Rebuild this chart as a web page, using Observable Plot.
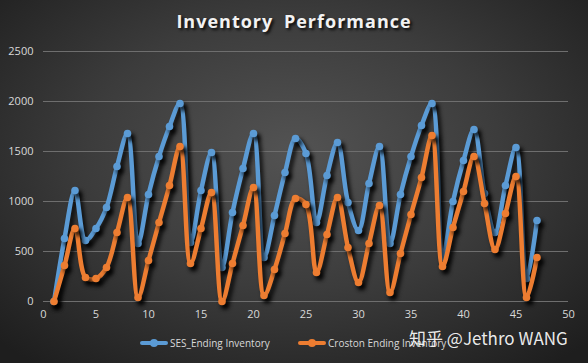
<!DOCTYPE html>
<html><head><meta charset="utf-8">
<script src="https://cdn.jsdelivr.net/npm/d3@7"></script>
<script src="https://cdn.jsdelivr.net/npm/@observablehq/plot@0.6"></script>
<style>
body{margin:0;background:#222;}
#chart{position:relative;width:588px;height:363px;overflow:hidden;
  background:radial-gradient(ellipse 70% 75% at 50% 42%, #535353 0%, #3c3c3c 50%, #1e1e1e 100%);
  font-family:"Open Sans",sans-serif;}
#title{position:absolute;top:9px;left:0;width:588px;text-align:center;color:#f2f2f2;font-weight:bold;
  font-size:18px;letter-spacing:1px;word-spacing:5px;text-shadow:2px 2px 3px rgba(0,0,0,0.85);}
#plot{position:absolute;left:0;top:0;}
.leg{position:absolute;top:336px;height:14px;display:flex;align-items:center;font-size:10px;color:#d9d9d9;}
.sw{position:relative;width:28px;height:4px;border-radius:2px;margin-right:2px;}
.sw i{position:absolute;left:10px;top:-2px;width:8px;height:8px;border-radius:4px;}
#wm{position:absolute;left:409px;top:325px;font-family:"Noto Sans CJK SC","Noto Sans",sans-serif;font-size:17px;color:rgba(255,255,255,0.92);white-space:nowrap;}
</style></head>
<body>
<div id="chart">
  <div id="plot"></div>
  <div id="title">Inventory Performance</div>
  <div class="leg" style="left:140px"><div class="sw" style="background:#5b9bd5"><i style="background:#5b9bd5"></i></div>SES_Ending Inventory</div>
  <div class="leg" style="left:298px"><div class="sw" style="background:#ed7d31"><i style="background:#ed7d31"></i></div>Croston Ending Inventory</div>
  <div id="wm">知乎 @Jethro WANG</div>
</div>
<script>
const periods = [1,2,3,4,5,6,7,8,9,10,11,12,13,14,15,16,17,18,19,20,21,22,23,24,25,26,27,28,29,30,31,32,33,34,35,36,37,38,39,40,41,42,43,44,45,46,47];
const sesEnding = [0,630,1110,610,730,940,1350,1680,580,1070,1450,1750,1980,590,1110,1490,340,890,1330,1680,440,860,1290,1630,1480,790,1260,1590,990,710,1180,1550,580,1070,1450,1760,1980,440,1000,1410,1720,1080,690,1160,1540,230,810];
const crostonEnding = [0,360,730,240,230,340,690,1040,40,410,790,1160,1550,380,730,1090,0,380,760,1140,60,320,680,1030,970,290,670,1040,540,190,580,960,90,480,870,1240,1660,350,740,1100,1450,980,520,880,1250,40,440];
const xTicks = [0,5,10,15,20,25,30,35,40,45,50];
const yTicks = [0,500,1000,1500,2000,2500];
const blue = "#5b9bd5", orange = "#ed7d31";

const ses = periods.map((t,i)=>({t, v: sesEnding[i]}));
const cro = periods.map((t,i)=>({t, v: crostonEnding[i]}));

const plot = Plot.plot({
  width:588, height:363,
  marginTop:51, marginBottom:62, marginLeft:43, marginRight:20,
  style:{background:"transparent", color:"#d9d9d9", fontSize:"11px", fontFamily:"Open Sans, sans-serif", overflow:"visible"},
  x:{domain:[0,50], label:null},
  y:{domain:[0,2500], label:null},
  marks:[
    Plot.gridY(yTicks,{stroke:"#6e6e6e", strokeOpacity:1, strokeWidth:1}),
    Plot.axisX(xTicks,{tickSize:0, tickPadding:9, fill:"#d9d9d9", tickFormat:d3.format("d")}),
    Plot.axisY(yTicks,{tickSize:0, tickPadding:10, fill:"#d9d9d9", tickFormat:d3.format("d")}),
    Plot.line(ses,{x:"t", y:"v", stroke:blue, strokeWidth:4.5, curve:"catmull-rom"}),
    Plot.dot(ses,{x:"t", y:"v", fill:blue, r:3.8}),
    Plot.line(cro,{x:"t", y:"v", stroke:orange, strokeWidth:4.5, curve:"catmull-rom"}),
    Plot.dot(cro,{x:"t", y:"v", fill:orange, r:3.8})
  ]
});
d3.select(plot).selectAll('g[aria-label="line"], g[aria-label="dot"]')
  .style("filter","drop-shadow(3px 4px 2px rgba(0,0,0,0.85))");
document.getElementById("plot").appendChild(plot);
</script>
</body></html>
